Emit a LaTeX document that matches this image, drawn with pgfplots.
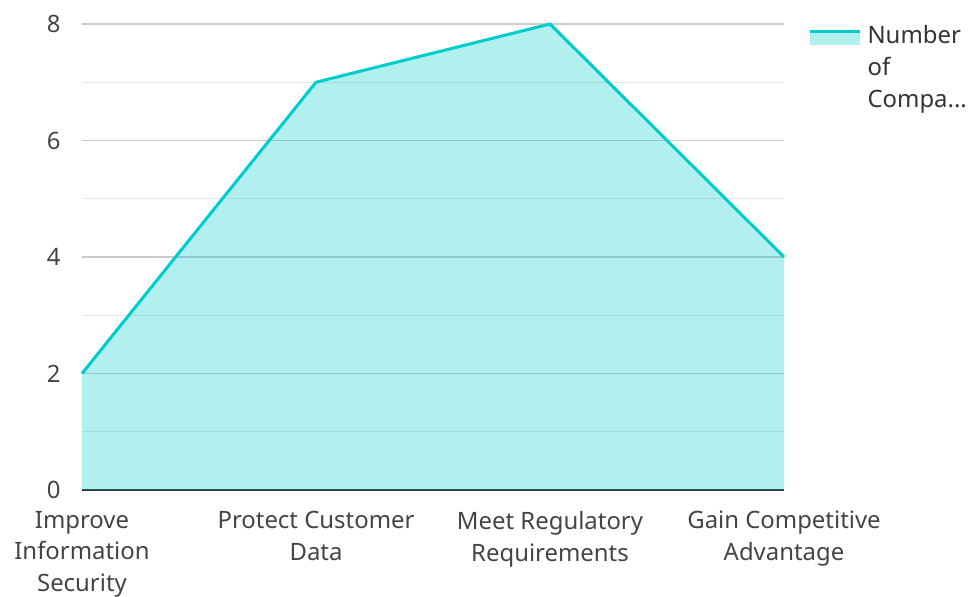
\documentclass[border=0pt]{standalone}
\usepackage{pgfplots}
\pgfplotsset{compat=1.18}
\usepackage{fontspec}
\setmainfont{Noto Sans}
\definecolor{areac}{RGB}{0,204,204}
\definecolor{ticktext}{RGB}{68,68,68}
\definecolor{majgrid}{RGB}{204,204,204}
\definecolor{mingrid}{RGB}{230,230,230}
\definecolor{axisc}{RGB}{51,51,51}
\begin{document}
\begin{tikzpicture}[x=1bp,y=1bp]
\useasboundingbox (0,0) rectangle (973,597);
\begin{axis}[
  at={(82bp,107bp)}, anchor=south west,
  scale only axis, width=702bp, height=466bp,
  xmin=0, xmax=3, ymin=0, ymax=8,
  xtick={0,1,2,3},
  xticklabels={{Improve\\Information\\Security},{Protect Customer\\Data},{Meet Regulatory\\Requirements},{Gain Competitive\\Advantage}},
  ytick={0,2,4,6,8}, minor ytick={1,3,5,7},
  ymajorgrids, yminorgrids,
  major grid style={majgrid, line width=1.2bp},
  minor grid style={mingrid, line width=1bp},
  axis x line*=bottom, axis y line*=left,
  y axis line style={draw=none},
  x axis line style={axisc, line width=2bp, -},
  major tick length=0pt, minor tick length=0pt,
  /pgf/number format/assume math mode=true,
  tick label style={font=\fontsize{24}{32}\selectfont, text=ticktext},
  xticklabel style={align=center, yshift=-17.5bp},
  yticklabel style={xshift=-18bp},
  legend style={at={(axis description cs:1.034,1.002)}, anchor=north west, draw=none, fill=none, inner sep=0pt,
    nodes={align=left, font=\fontsize{24}{32}\selectfont, text=axisc}},
  legend cell align=left,
  clip=false,
]
\addplot[draw=none, fill=areac, fill opacity=0.3,
  legend image code/.code={
    \fill[areac, fill opacity=0.3] (0bp,22bp) rectangle (50bp,35bp);
    \draw[areac, line width=3bp] (0bp,35bp) -- (50bp,35bp);
    \path (56bp,35bp);}]
  coordinates {(0,2) (1,7) (2,8) (3,4)} \closedcycle;
\addlegendentry{Number\\of\\Compa...}
\addplot[areac, line width=3bp, forget plot] coordinates {(0,2) (1,7) (2,8) (3,4)};
\end{axis}
\end{tikzpicture}
\end{document}
